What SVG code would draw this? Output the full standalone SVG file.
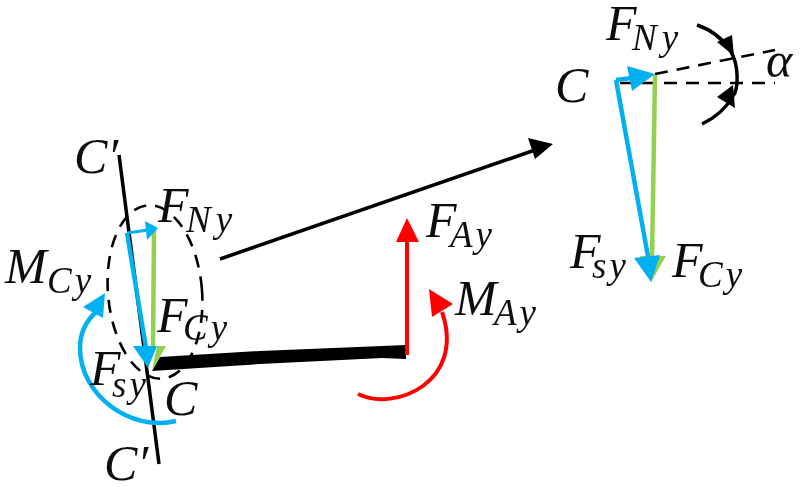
<svg xmlns="http://www.w3.org/2000/svg" width="800" height="487" viewBox="0 0 800 487">
<defs><filter id="soft" x="0" y="0" width="100%" height="100%"><feGaussianBlur stdDeviation="0.5"/></filter></defs>
<style>
text{font-family:"Liberation Serif","DejaVu Serif",serif;font-style:italic;fill:#111}
.m{font-size:50px}.s{font-size:37px;letter-spacing:3px}.w{letter-spacing:5px}
.dash{fill:none;stroke:#000;stroke-width:2.6;stroke-dasharray:13 9}
.blue{fill:none;stroke:#00b0f0;stroke-width:4.5}
.thin{stroke-width:3}
.green{fill:none;stroke:#92d050;stroke-width:4.5}
.bk{fill:none;stroke:#000;stroke-width:3.5}
.red{fill:none;stroke:#f00;stroke-width:4}
</style>
<rect width="800" height="487" fill="#fff"/>
<g filter="url(#soft)">
<g id="connectors">
<path class="bk thin" d="M119,155L159,464"/>
<ellipse class="dash" cx="155" cy="292" rx="47" ry="87" transform="rotate(-5 155 292)"/>
<path d="M152,371L160,357L260,351L382,346L406,345V359L382,358L260,364Z" fill="#000"/>
<path class="green" d="M154,230L153,350"/>
<path d="M157,346H166L152,371Z" fill="#92d050"/>
<path class="blue" d="M127,233L146,348"/>
<path d="M133,346H157L148,368Z" fill="#00b0f0"/>
<path class="blue thin" d="M127,233L148,230"/>
<path d="M145,221L158,228L147,240Z" fill="#00b0f0"/>
<path class="blue" d="M176,421C130,432 80,395 80,348C80,335 85,322 96,312"/>
<path d="M83,307L103,318L105,293Z" fill="#00b0f0"/>
<path class="bk" d="M220,259L535,150"/>
<path d="M553,144L528,138L535,159Z" fill="#000"/>
<path class="red" d="M407,355V240"/>
<path d="M407,218L396,242H419Z" fill="#f00"/>
<path class="red" d="M358,394C395,412 466,382 442,312"/>
<path d="M429,289L453,304L432,317Z" fill="#f00"/>
<path class="dash" d="M620,83H775"/>
<path class="dash" d="M655,74L775,50"/>
<path class="green" d="M655,75L652,260"/>
<path d="M640,256H666L651,282Z" fill="#92d050"/>
<path class="blue" d="M616,80L649,262"/>
<path d="M634,258L660,255L651,282Z" fill="#00b0f0"/>
<path class="blue" d="M616,80L632,78"/>
<path d="M627,66L632,91L655,74Z" fill="#00b0f0"/>
<path class="bk" d="M697,25C712,30 722,38 730,50C740,66 738,90 733,96C725,110 715,118 702,124"/>
<path d="M732,35L717,42L734,56Z" fill="#000"/>
<path d="M733,85L717,97L735,108Z" fill="#000"/>
</g>
<g id="label-left-fny"><text x="158" y="222" class="m">F<tspan class="s w" x="186" y="232">Ny</tspan></text></g>
<g id="label-left-mcy"><text x="5" y="283" class="m">M<tspan class="s" x="47" y="293">Cy</tspan></text></g>
<g id="label-left-fcy"><text x="157" y="332" class="m">F<tspan class="s" x="183" y="340">Cy</tspan></text></g>
<g id="label-left-fsy"><text x="90" y="385" class="m">F<tspan class="s" x="112" y="397">sy</tspan></text></g>
<g id="label-left-c"><text x="164" y="415" class="m">C</text></g>
<g id="label-top-c"><text x="74" y="173" class="m">C′</text></g>
<g id="label-bottom-c"><text x="104" y="480" class="m">C′</text></g>
<g id="label-fay"><text x="426" y="237" class="m">F<tspan class="s w" x="450" y="247">Ay</tspan></text></g>
<g id="label-may"><text x="455" y="315" class="m">M<tspan class="s w" x="494" y="325">Ay</tspan></text></g>
<g id="label-right-fny"><text x="606" y="40" class="m">F<tspan class="s w" x="632" y="50">Ny</tspan></text></g>
<g id="label-right-c"><text x="555" y="102" class="m">C</text></g>
<g id="label-alpha"><text x="766" y="77" class="m">α</text></g>
<g id="label-right-fsy"><text x="570" y="268" class="m">F<tspan class="s" x="592" y="278">sy</tspan></text></g>
<g id="label-right-fcy"><text x="672" y="277" class="m">F<tspan class="s" x="698" y="287">Cy</tspan></text></g>
</g>
</svg>
